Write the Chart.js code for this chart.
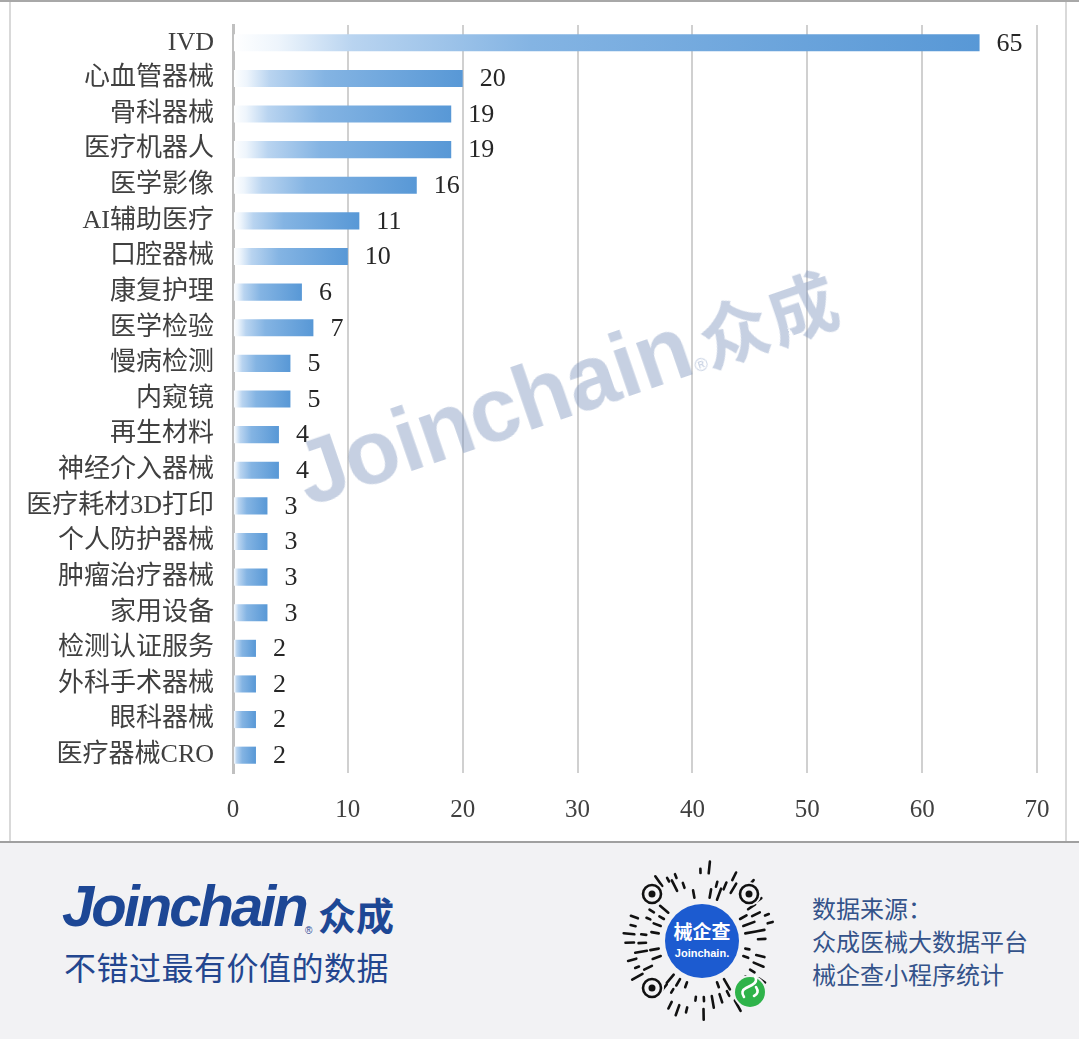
<!DOCTYPE html>
<html><head><meta charset="utf-8">
<script src="https://cdn.jsdelivr.net/npm/chart.js@4.4.1/dist/chart.umd.min.js"></script>
<style>
html,body{margin:0;padding:0;background:#fff;}
body{width:1079px;height:1039px;position:relative;overflow:hidden;font-family:'Noto Sans CJK SC',sans-serif;}
#frameTop{position:absolute;left:0;top:0;width:1079px;height:2px;background:#a8a8a8;}
#frameL{position:absolute;left:9px;top:2px;width:2px;height:840px;background:#d9d9d9;}
#frameR{position:absolute;left:1065px;top:2px;width:2px;height:840px;background:#d9d9d9;}
#frameB{position:absolute;left:0;top:841px;width:1079px;height:2px;background:#a0a0a0;}
#wrap{position:absolute;left:0;top:0;width:1079px;height:841px;}
#wm{position:absolute;left:282px;top:430px;transform-origin:0 0;transform:rotate(-19deg);white-space:nowrap;color:rgba(120,142,185,0.42);font:bold 90px 'Liberation Sans',sans-serif;letter-spacing:-1px;line-height:1;}
#wm .r{font-size:18px;font-weight:normal;letter-spacing:0;}
#wm .zc{font:bold 70px 'Noto Sans CJK SC',sans-serif;letter-spacing:2px;}
#footer{position:absolute;left:0;top:843px;width:1079px;height:196px;background:#f2f2f4;}
#logo{position:absolute;left:62px;top:34px;font:italic bold 58px 'Liberation Sans',sans-serif;letter-spacing:-3px;color:#1d4795;line-height:1;}
#logoR{position:absolute;left:305px;top:82px;font:10px 'Liberation Sans',sans-serif;color:#1d4795;}
#logoZC{position:absolute;left:318px;top:52px;font:bold 38px 'Noto Sans CJK SC',sans-serif;color:#1d4795;line-height:1;}
#slogan{position:absolute;left:64px;top:107px;font:32px 'Noto Sans CJK SC',sans-serif;color:#23468f;line-height:1;letter-spacing:0.5px;}
#src{position:absolute;left:812px;top:48px;font:24px 'Noto Sans CJK SC',sans-serif;color:#34538a;line-height:33px;}
#qr{position:absolute;left:620px;top:16px;width:164px;height:164px;}
</style></head>
<body>
<div id="wrap"><canvas id="c" width="1079" height="841"></canvas></div>
<div id="frameTop"></div><div id="frameL"></div><div id="frameR"></div><div id="frameB"></div>
<div id="wm">Joinchain<span class="r">®</span><span class="zc">众成</span></div>
<div id="footer">
  <div id="logo">Joinchain</div>
  <div id="logoR">®</div>
  <div id="logoZC">众成</div>
  <div id="slogan">不错过最有价值的数据</div>
  <svg id="qr" viewBox="0 0 164 164"></svg>
  <div id="src">数据来源：<br>众成医械大数据平台<br>械企查小程序统计</div>
</div>
<script>
const categories = ['IVD','心血管器械','骨科器械','医疗机器人','医学影像','AI辅助医疗','口腔器械','康复护理','医学检验','慢病检测','内窥镜','再生材料','神经介入器械','医疗耗材3D打印','个人防护器械','肿瘤治疗器械','家用设备','检测认证服务','外科手术器械','眼科器械','医疗器械CRO'];
const values = [65,20,19,19,16,11,10,6,7,5,5,4,4,3,3,3,3,2,2,2,2];
const xTicks = [0,10,20,30,40,50,60,70];

// decorative mini-program code
(function(){
  const svg=document.getElementById('qr');
  const cx=82,cy=82;
  const pat='3141592653589793238462643383279502884197169399375105820974944592307816406286';
  let h='';
  for(let ring=0;ring<3;ring++){
    const r0=44+ring*12;
    const n=36+ring*8;
    for(let i=0;i<n;i++){
      const d=+pat[(i*3+ring*7)%pat.length];
      if(d%3===0)continue;
      const a=(i/n)*Math.PI*2+ring*0.11;
      const len=3+d*1.1;
      const x1=cx+Math.cos(a)*r0,y1=cy+Math.sin(a)*r0,x2=cx+Math.cos(a)*(r0+len),y2=cy+Math.sin(a)*(r0+len);
      h+=`<line x1="${x1.toFixed(1)}" y1="${y1.toFixed(1)}" x2="${x2.toFixed(1)}" y2="${y2.toFixed(1)}" stroke="#111" stroke-width="2.6" stroke-linecap="round"/>`;
    }
  }
  h+=`<circle cx="${cx}" cy="${cy}" r="40" fill="#f2f2f4"/>`;
  h+=`<circle cx="${cx}" cy="${cy}" r="37" fill="#1c5bd0"/>`;
  h+=`<text x="${cx}" y="${cy-2}" text-anchor="middle" font-family="Noto Sans CJK SC" font-weight="bold" font-size="19" fill="#fff">械企查</text>`;
  h+=`<text x="${cx}" y="${cy+16}" text-anchor="middle" font-family="Liberation Sans" font-weight="bold" font-size="11" fill="#fff">Joinchain.</text>`;
  [[32,35],[129,35],[32,129]].forEach(p=>{
    h+=`<circle cx="${p[0]}" cy="${p[1]}" r="12" fill="#f2f2f4"/><circle cx="${p[0]}" cy="${p[1]}" r="9" fill="none" stroke="#111" stroke-width="2.6"/><circle cx="${p[0]}" cy="${p[1]}" r="3.5" fill="#111"/>`;
  });
  h+=`<circle cx="130" cy="133" r="17" fill="#f2f2f4"/><circle cx="130" cy="133" r="15" fill="#2fb34a"/>`;
  h+=`<path d="M124 138 q-4 -6 2 -9 l6 -3 q6 -3 3 -9 M136 128 q4 6 -2 9" fill="none" stroke="#fff" stroke-width="2.6" stroke-linecap="round"/>`;
  svg.innerHTML=h;
})();

const valueLabels = {
  id:'valueLabels',
  afterDatasetsDraw(chart){
    const c=chart.ctx;const meta=chart.getDatasetMeta(0);
    c.save();c.font='26px "Liberation Serif", serif';c.fillStyle='#262626';c.textAlign='left';c.textBaseline='middle';
    meta.data.forEach((bar,i)=>{c.fillText(String(values[i]),bar.x+17,bar.y+1);});
    c.restore();
  }
};

new Chart(document.getElementById('c'),{
  type:'bar',
  data:{labels:categories,datasets:[{data:values,
    backgroundColor(ctx){
      const chart=ctx.chart;if(!chart.chartArea)return '#5b9bd5';
      const xs=chart.scales.x;const x0=xs.getPixelForValue(0);const x1=xs.getPixelForValue(ctx.raw);
      const g=chart.ctx.createLinearGradient(x0,0,Math.max(x1,x0+1),0);
      g.addColorStop(0,'#ffffff');g.addColorStop(0.06,'#eef5fc');g.addColorStop(0.16,'#b9d4f0');g.addColorStop(0.4,'#84b4e3');g.addColorStop(1,'#5898d6');
      return g;
    },
    borderWidth:0,barPercentage:0.96,categoryPercentage:0.5}]},
  options:{
    indexAxis:'y',responsive:false,animation:false,
    layout:{padding:{top:25,right:42,left:0,bottom:0}},
    plugins:{legend:{display:false},tooltip:{enabled:false}},
    scales:{
      x:{min:0,max:70,
        afterBuildTicks(s){s.ticks=xTicks.map(v=>({value:v}));},
        afterFit(s){s.height=68;},
        grid:{color:'#d0d0d0',lineWidth:2,drawTicks:false},
        border:{display:false},
        ticks:{padding:22,color:'#404040',font:{family:'"Liberation Serif", serif',size:25}}},
      y:{afterFit(s){s.width=233;s.paddingTop=0;s.paddingBottom=0;},
        grid:{display:false},
        border:{display:true,color:'#c0c0c0',width:3},
        ticks:{padding:11,color:'#404040',font:{family:'"Liberation Serif", "Noto Sans CJK SC", serif',size:26}}}
    }
  },
  plugins:[valueLabels]
});
</script>
</body></html>
